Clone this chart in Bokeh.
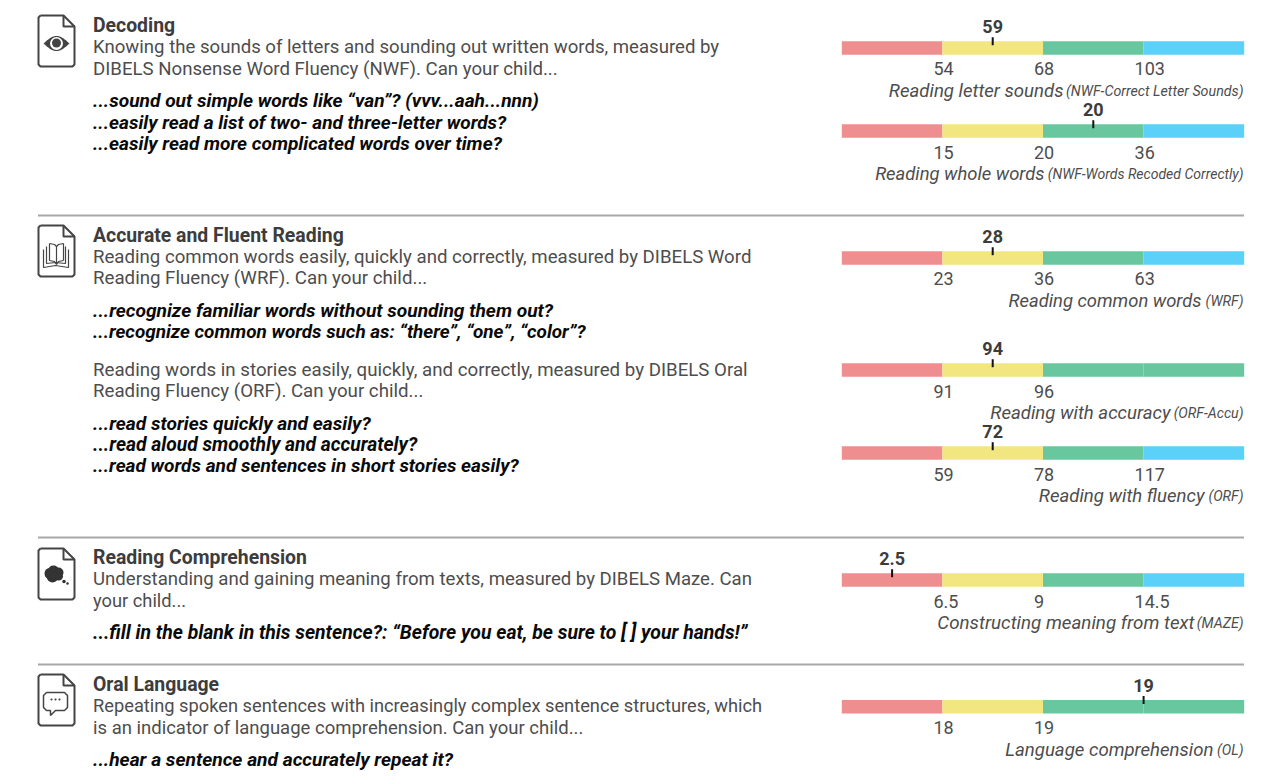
import numpy as np
from bokeh.core.properties import value
from bokeh.embed import file_html
from bokeh.models import ColumnDataSource, Range1d
from bokeh.plotting import figure
from bokeh.resources import INLINE

# one row per score bar
score_labels = ["59", "20", "28", "94", "72", "2.5", "19"]
score_bands = [1.5, 2.5, 1.5, 1.5, 1.5, 0.5, 3.0]
cut_labels = [
    ["54", "68", "103"],
    ["15", "20", "36"],
    ["23", "36", "63"],
    ["91", "96", ""],
    ["59", "78", "117"],
    ["6.5", "9", "14.5"],
    ["18", "19", ""],
]
captions = [
    "Reading letter sounds",
    "Reading whole words",
    "Reading common words",
    "Reading with accuracy",
    "Reading with fluency",
    "Constructing meaning from text",
    "Language comprehension",
]
caption_tags = [
    "(NWF-Correct Letter Sounds)",
    "(NWF-Words Recoded Correctly)",
    "(WRF)",
    "(ORF-Accu)",
    "(ORF)",
    "(MAZE)",
    "(OL)",
]
band_colors = [
    ["#EE8E8E", "#F1E680", "#68C79E", "#5BD0F8"],
    ["#EE8E8E", "#F1E680", "#68C79E", "#5BD0F8"],
    ["#EE8E8E", "#F1E680", "#68C79E", "#5BD0F8"],
    ["#EE8E8E", "#F1E680", "#68C79E", "#68C79E"],
    ["#EE8E8E", "#F1E680", "#68C79E", "#5BD0F8"],
    ["#EE8E8E", "#F1E680", "#68C79E", "#5BD0F8"],
    ["#EE8E8E", "#F1E680", "#68C79E", "#68C79E"],
]

headings = ["Decoding", "Accurate and Fluent Reading", "Reading Comprehension", "Oral Language"]
body_lines = [
    "Knowing the sounds of letters and sounding out written words, measured by",
    "DIBELS Nonsense Word Fluency (NWF). Can your child...",
    "Reading common words easily, quickly and correctly, measured by DIBELS Word",
    "Reading Fluency (WRF). Can your child...",
    "Reading words in stories easily, quickly, and correctly, measured by DIBELS Oral",
    "Reading Fluency (ORF). Can your child...",
    "Understanding and gaining meaning from texts, measured by DIBELS Maze. Can",
    "your child...",
    "Repeating spoken sentences with increasingly complex sentence structures, which",
    "is an indicator of language comprehension. Can your child...",
]
prompts = [
    "...sound out simple words like \u201cvan\u201d? (vvv...aah...nnn)",
    "...easily read a list of two- and three-letter words?",
    "...easily read more complicated words over time?",
    "...recognize familiar words without sounding them out?",
    "...recognize common words such as: \u201cthere\u201d, \u201cone\u201d, \u201ccolor\u201d?",
    "...read stories quickly and easily?",
    "...read aloud smoothly and accurately?",
    "...read words and sentences in short stories easily?",
    "...fill in the blank in this sentence?: \u201cBefore you eat, be sure to [ ] your hands!\u201d",
    "...hear a sentence and accurately repeat it?",
]

# layout, in page pixels
W, H = 1270, 778
bar_left, band_w = 841.3, 100.6
bar_top = [40.7, 123.7, 250.7, 362.7, 445.7, 572.7, 699.5]
bar_h = 13.5
heading_y = [32, 242, 564, 691]
body_y = [53, 75, 263, 284, 376, 397, 585, 607, 712, 734]
prompt_y = [107, 129, 150, 317, 338, 430, 451, 472, 639, 766]
rule_y = [215, 537, 664]
icon_top = [15, 225, 548, 674]
caption_right = [1063, 1044, 1201, 1170, 1204, 1194, 1213]
cut_drop = [34, 35, 34, 35, 35, 35, 34]

# font sizes per line, the widths differ a little from Roboto
body_sizes = ["18.6px", "18.65px", "18.65px", "18.7px", "18.7px", "18.7px", "18.6px", "18.3px", "18.27px", "18.5px"]
prompt_sizes = ["19.15px", "19.05px", "19.1px", "19.15px", "18.9px", "19.15px", "19.25px", "19.05px", "19.4px", "19.2px"]
caption_sizes = ["18.6px", "18.4px", "18.4px", "18.6px", "18.6px", "18.75px", "18.6px"]
tag_sizes = ["14.25px", "14.05px", "14.2px", "14.2px", "14.2px", "14.2px", "14.2px"]

FONT = value("Roboto")
DARK = "#3c3c3c"
GREY = "#4d4d4d"
LIFT = -7  # the svg text sits a bit under the given baseline

p = figure(width=W, height=H, x_range=Range1d(0, W), y_range=Range1d(H, 0),
           output_backend="svg", toolbar_location=None, min_border=0)
p.axis.visible = False
p.grid.visible = False
p.outline_line_color = None
p.background_fill_color = "white"

# second x scale: one unit is one band of the score bars
p.extra_x_ranges = {"band": Range1d(-bar_left / band_w, (W - bar_left) / band_w)}

# bars
rows, lefts, colors = [], [], []
for i, cols in enumerate(band_colors):
    for j, c in enumerate(cols):
        rows.append(bar_top[i] + bar_h / 2)
        lefts.append(j)
        colors.append(c)
bars = ColumnDataSource(dict(y=rows, left=lefts, right=[v + 1 for v in lefts], color=colors))
p.hbar(y="y", left="left", right="right", height=bar_h, fill_color="color", line_color=None,
       source=bars, x_range_name="band")

# score ticks and values
p.segment(x0=score_bands, x1=score_bands, y0=[t - 4 for t in bar_top], y1=[t + 4 for t in bar_top],
          line_color="#111111", line_width=2, x_range_name="band")
p.text(x=score_bands, y=[t - 8 for t in bar_top], text=score_labels, text_font=FONT, y_offset=LIFT,
       text_font_size="18px", text_font_style="bold", text_color=DARK, text_align="center",
       text_baseline="alphabetic", x_range_name="band")

# cut points under the bars
cut_x, cut_y, cut_text = [], [], []
for i, labels in enumerate(cut_labels):
    for j, t in enumerate(labels):
        if t:
            cut_x.append(j + 1)
            cut_y.append(bar_top[i] + cut_drop[i])
            cut_text.append(t)
p.text(x=cut_x, y=cut_y, text=cut_text, text_font=FONT, text_font_size="18px", text_color=GREY,
       text_align="left", text_baseline="alphabetic", x_offset=-9, y_offset=LIFT, x_range_name="band")

# captions
cap_y = [t + 56.5 for t in bar_top]
p.text(x=caption_right, y=cap_y, text=captions, text_font=FONT, text_font_size=caption_sizes, y_offset=LIFT,
       text_font_style="italic", text_color=GREY, text_align="right", text_baseline="alphabetic")
p.text(x=[1243] * len(caption_tags), y=cap_y, text=caption_tags, text_font=FONT, text_font_size=tag_sizes,
       y_offset=LIFT, text_font_style="italic", text_color=GREY, text_align="right",
       text_baseline="alphabetic")

# left column text
p.text(x=[92.5] * len(headings), y=heading_y, text=headings, text_font=FONT, text_font_size="19.4px",
       y_offset=LIFT, text_font_style="bold", text_color=DARK, text_baseline="alphabetic")
p.text(x=[92.5] * len(body_lines), y=body_y, text=body_lines, text_font=FONT, text_font_size=body_sizes,
       y_offset=LIFT, text_color=GREY, text_baseline="alphabetic")
p.text(x=[92.5] * len(prompts), y=prompt_y, text=prompts, text_font=FONT, text_font_size=prompt_sizes,
       y_offset=LIFT, text_font_style="bold italic", text_color="#0a0a0a", text_baseline="alphabetic")

# rules
p.segment(x0=[37.5] * 3, x1=[1243.5] * 3, y0=rule_y, y1=rule_y, line_color="#a8a8a8", line_width=2)

# document icons
for top in icon_top:
    xs = [40, 63, 74, 74, 72, 40, 38, 38, 40]
    ys = [top, top, top + 11, top + 49, top + 51, top + 51, top + 49, top + 2, top]
    p.line(xs, ys, line_color="#444444", line_width=2)
    p.line([63, 63, 74], [top, top + 11, top + 11], line_color="#444444", line_width=2)

# eye
t = np.linspace(0, np.pi, 30)
eye_x = np.r_[43 + 26 * t / np.pi, 69 - 26 * t / np.pi]
eye_y = np.r_[43 - 7.5 * np.sin(t), 43 + 7.5 * np.sin(t)]
p.patch(eye_x, eye_y, fill_color="#444444", line_color=None)
p.ellipse(x=[56], y=[43], width=13, height=13, fill_color="white", line_color=None)
p.ellipse(x=[56], y=[42.5], width=9, height=9, fill_color="#444444", line_color=None)

# book
book = [
    ([43, 43, 55, 68, 68], [249, 267, 265, 267, 249]),
    ([46, 46, 55, 65, 65], [246, 263, 262, 263, 246]),
    ([49, 54, 56, 56, 54, 49, 49], [243, 244, 246, 264, 261, 260, 243]),
    ([63, 58, 56], [243, 244, 246]),
    ([63, 58, 56], [260, 261, 264]),
    ([63, 63], [243, 260]),
]
for xs, ys in book:
    p.line(xs, ys, line_color="#444444", line_width=1.2)

# thought cloud
p.ellipse(x=[49, 53, 58, 52, 58, 54], y=[573, 570, 572, 577, 576, 574], width=[10, 11, 10, 11, 9, 14],
          height=[11, 10, 10, 10, 8, 12], fill_color="#333333", line_color=None)
p.ellipse(x=[63.5, 67], y=[581, 583], width=[3.5, 2.5], height=[3.5, 2.5], fill_color="#333333", line_color=None)

# speech bubble
p.line([46, 64, 67, 67, 64, 55, 50, 50, 46, 43, 43, 46],
       [692, 692, 695, 707, 710, 710, 715, 710, 710, 707, 695, 692],
       line_color="#444444", line_width=1.5)
p.ellipse(x=[51, 55, 59], y=[699, 699, 699], width=2.2, height=2.2, fill_color="#444444", line_color=None)

open("out.html", "w").write(file_html(p, INLINE))
